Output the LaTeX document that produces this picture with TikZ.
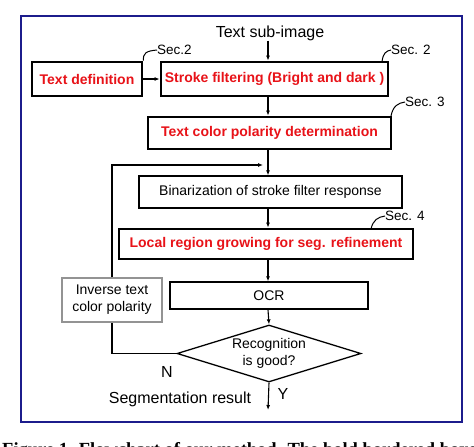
\documentclass[tikz,border=0pt]{standalone}
\usepackage{fontspec}
\setmainfont{Liberation Sans}
\newfontfamily\capfont{Liberation Serif}
\usetikzlibrary{shapes.geometric,arrows.meta}
\definecolor{frameblue}{RGB}{28,28,140}
\definecolor{boxred}{RGB}{232,18,24}
\tikzset{
  boldbox/.style={draw=black,line width=2.8pt,fill=white,inner sep=0pt,text=boxred,font=\fontsize{14}{16}\selectfont\bfseries},
  thinbox/.style={draw=black,line width=1.3pt,fill=white,inner sep=0pt,font=\fontsize{14}{16}\selectfont},
  graybox/.style={draw=gray!85,line width=1.5pt,fill=white,inner sep=0pt,align=center,font=\fontsize{14}{17}\selectfont},
  conn/.style={line width=1.1pt},
  arr/.style={conn,-{Latex[length=5pt,width=4pt]}},
  seclabel/.style={inner sep=0pt,font=\fontsize{13.5}{15}\selectfont},
  hook/.style={line width=1pt},
  plain/.style={inner sep=0pt,font=\fontsize{16}{18}\selectfont}
}
\begin{document}
\begin{tikzpicture}[x=1pt,y=-1pt]
\useasboundingbox (0,0) rectangle (474,447);
\fill[white] (0,0) rectangle (474,447);
\draw[frameblue,line width=2pt] (21,16) rectangle (462,422);
\coordinate (ax) at (268,0);
% nodes
\node[plain] (sub) at (270,33) {Text sub-image};
\node[boldbox,minimum width=110pt,minimum height=34pt] (tdef) at (87,79) {Text definition};
\node[boldbox,minimum width=227pt,minimum height=34pt] (stroke) at (274.5,79) {Stroke filtering (Bright and dark )};
\node[boldbox,minimum width=243pt,minimum height=32pt] (pol) at (269.5,133) {Text color polarity determination};
\node[thinbox,minimum width=263pt,minimum height=32pt] (bin) at (270.5,192) {Binarization of stroke filter response};
\node[boldbox,minimum width=294pt,minimum height=30pt] (loc) at (266,244) {Local region growing for seg. refinement};
\node[thinbox,minimum width=198pt,minimum height=27pt] (ocr) at (269,295.5) {OCR};
\node[graybox,minimum width=100pt,minimum height=44pt] (inv) at (112,300) {Inverse text\\color polarity};
\node[draw=black,line width=1.3pt,diamond,aspect=3.2,inner sep=0pt,minimum width=184pt,minimum height=57pt,align=center,font=\fontsize{14}{17}\selectfont] (dia) at (269,353.5) {Recognition\\is good?};
\node[plain] (nlab) at (167,372) {N};
\node[plain] (ylab) at (283,394) {Y};
\node[plain] (seg) at (180,399) {Segmentation result};
% section labels
\node[seclabel,anchor=west] (s1) at (157,50) {Sec.2};
\node[seclabel,anchor=west] (s2) at (391,50) {Sec. 2};
\node[seclabel,anchor=west] (s3) at (405,102) {Sec. 3};
\node[seclabel,anchor=west] (s4) at (385,216) {Sec. 4};
\draw[hook] (tdef.north east) .. controls (143,53) and (146,51) .. (s1.west);
\draw[hook] (382,62) .. controls (383,53) and (386,51) .. (s2.west);
\draw[hook] (391,116) .. controls (393,106) and (398,103) .. (s3.west);
\draw[hook] (371,229) .. controls (373,220) and (378,217) .. (s4.west);
% connectors
\draw[arr] (ax |- sub.south) -- (ax |- stroke.north);
\draw[arr] (tdef.east) -- (stroke.west);
\draw[arr] (ax |- stroke.south) -- (ax |- pol.north);
\draw[arr] (ax |- pol.south) -- (ax |- bin.north);
\draw[arr] (ax |- bin.south) -- (ax |- loc.north);
\draw[arr] (ax |- loc.south) -- (ax |- ocr.north);
\draw[arr] (ax |- ocr.south) -- (dia.north);
\coordinate (loopend) at (263,165);
\draw[arr] (inv.north) -- (inv.north |- loopend) -- (loopend);
\draw[conn] (dia.west) -- (inv.south |- dia.west) -- (inv.south);
\coordinate (segend) at (268,410);
\draw[arr] (dia.south) -- (segend);
% caption (cut off at the lower edge, as in the reference)
\begin{scope}
\clip (0,0) rectangle (474,447);
\node[anchor=base west,inner sep=0pt,font=\capfont\bfseries\fontsize{18.5}{20}\selectfont] (cap) at (2,455) {Figure 1. Flowchart of our method. The bold bordered boxes};
\end{scope}
\end{tikzpicture}
\end{document}
